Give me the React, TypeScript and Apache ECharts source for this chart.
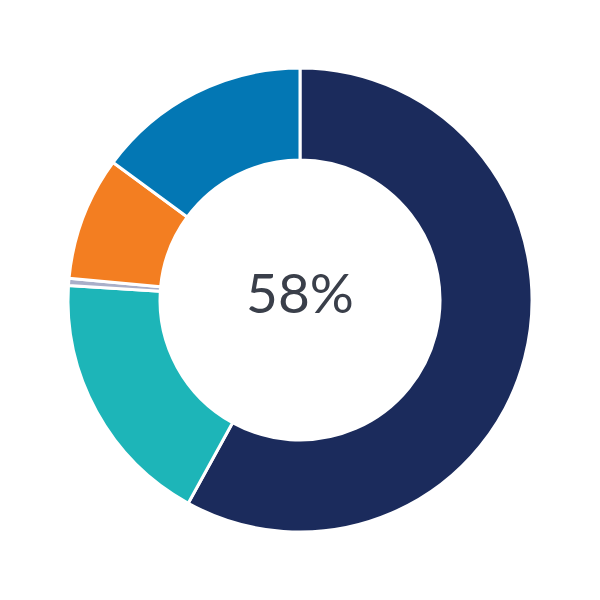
import React, { useEffect, useRef } from 'react';
import * as echarts from 'echarts';

const categories = ['A', 'B', 'C', 'D', 'E'];
const values = [58, 18, 0.5, 8.6, 14.9];
const colors = ['#1b2b5c', '#1db5b8', '#a9afc9', '#f37e21', '#0377b4'];
const centerLabel = '58%';

const App: React.FC = () => {
    const chartRef: any = useRef();

    useEffect(() => {
        const chart = echarts.init(chartRef.current, null, { renderer: 'svg' });
        const option = {
            animation: false,
            backgroundColor: '#ffffff',
            graphic: [{
                type: 'text',
                left: 'center',
                top: 264,
                style: {
                    text: centerLabel,
                    fontFamily: 'Lato',
                    fontSize: 55,
                    fill: '#3a3f4a'
                }
            }],
            series: [{
                type: 'pie',
                radius: [140, 232],
                center: ['50%', '50%'],
                startAngle: 90,
                clockwise: true,
                label: { show: false },
                labelLine: { show: false },
                itemStyle: { borderColor: '#ffffff', borderWidth: 3 },
                data: categories.map((c, i) => ({
                    name: c,
                    value: values[i],
                    itemStyle: { color: colors[i] }
                }))
            }]
        };
        chart.setOption(option);
        return () => {
            chart.dispose();
        };
    }, []);

    return <div ref={chartRef} style={{ position: 'fixed', left: 0, top: 0, width: 600, height: 600 }}></div>;
};

export default App;
